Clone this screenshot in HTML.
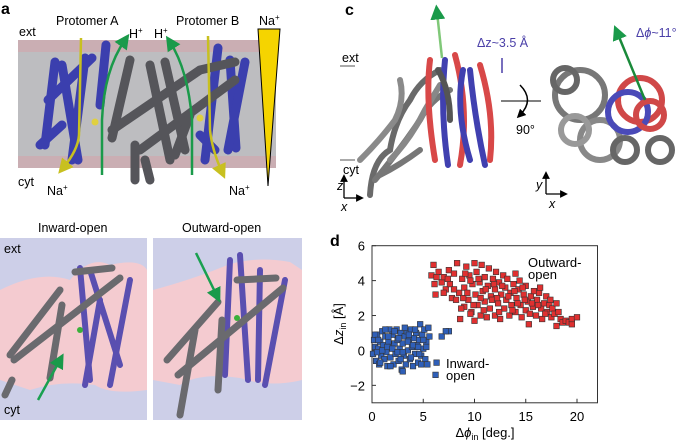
<!DOCTYPE html>
<html><head><meta charset="utf-8">
<style>
body{margin:0;background:#fff;}
svg{display:block;font-family:"Liberation Sans",sans-serif;}
</style></head>
<body>
<svg id="fig" width="685" height="442" viewBox="0 0 685 442">
<defs>
<marker id="ag" markerWidth="6" markerHeight="6" refX="3" refY="3" orient="auto"><path d="M0,0 L6,3 L0,6 z" fill="#1a9a4a"/></marker>
<marker id="ay" markerWidth="6" markerHeight="6" refX="3" refY="3" orient="auto"><path d="M0,0 L6,3 L0,6 z" fill="#c8c020"/></marker>
<marker id="ak" markerWidth="6" markerHeight="6" refX="3" refY="3" orient="auto"><path d="M0,0 L6,3 L0,6 z" fill="#000"/></marker>
</defs>

<!-- Panel a -->
<g>
<text x="1" y="14" font-size="16" font-weight="bold">a</text>
<rect x="18" y="40" width="258" height="128" fill="#bdbdc0"/>
<rect x="18" y="40" width="258" height="12" fill="#d0a8ae" opacity="0.7"/>
<rect x="18" y="156" width="258" height="12" fill="#d0a8ae" opacity="0.7"/>
<g stroke="#3b3fae" stroke-width="9" stroke-linecap="round">
<line x1="55" y1="62" x2="45" y2="145"/><line x1="62" y1="65" x2="78" y2="160"/><line x1="48" y1="100" x2="92" y2="58"/>
<line x1="85" y1="58" x2="72" y2="160"/><line x1="106" y1="45" x2="100" y2="105"/><line x1="40" y1="145" x2="62" y2="125"/>
<line x1="218" y1="48" x2="205" y2="160"/><line x1="230" y1="60" x2="236" y2="148"/><line x1="245" y1="62" x2="228" y2="150"/><line x1="200" y1="135" x2="215" y2="150"/>
</g>
<g stroke="#55555a" stroke-width="9" stroke-linecap="round">
<line x1="130" y1="60" x2="112" y2="138"/><line x1="112" y1="130" x2="200" y2="70"/><line x1="150" y1="65" x2="170" y2="160"/>
<line x1="165" y1="62" x2="185" y2="150"/><line x1="140" y1="150" x2="235" y2="80"/><line x1="175" y1="155" x2="190" y2="115"/>
<line x1="135" y1="145" x2="135" y2="180"/><line x1="145" y1="160" x2="150" y2="180"/><line x1="200" y1="70" x2="235" y2="62"/>
</g>
<line x1="81" y1="38" x2="79" y2="135" stroke="#c8c020" stroke-width="2.5"/>
<path d="M79,135 Q78,150 63,168" stroke="#c8c020" stroke-width="2.5" fill="none" marker-end="url(#ay)"/>
<line x1="208" y1="36" x2="210" y2="130" stroke="#c8c020" stroke-width="2.5"/>
<path d="M210,130 Q212,150 222,172" stroke="#c8c020" stroke-width="2.5" fill="none" marker-end="url(#ay)"/>
<path d="M102,175 L102,120 Q104,70 125,40" stroke="#1a9a4a" stroke-width="2.5" fill="none" marker-end="url(#ag)"/>
<path d="M192,175 L192,120 Q188,70 170,42" stroke="#1a9a4a" stroke-width="2.5" fill="none" marker-end="url(#ag)"/>
<circle cx="95" cy="122" r="3.5" fill="#e0d040"/><circle cx="200" cy="118" r="3.5" fill="#e0d040"/>
<polygon points="258,29 280,29 268,186" fill="#f5d400" stroke="#000" stroke-width="1"/>
<g font-size="12.5">
<text x="56" y="25">Protomer A</text><text x="176" y="25">Protomer B</text>
<text x="19" y="36">ext</text><text x="129" y="38">H<tspan font-size="8" dy="-5">+</tspan></text><text x="154" y="38">H<tspan font-size="8" dy="-5">+</tspan></text>
<text x="259" y="25">Na<tspan font-size="8" dy="-5">+</tspan></text>
<text x="18" y="186">cyt</text><text x="47" y="195">Na<tspan font-size="8" dy="-5">+</tspan></text><text x="229" y="195">Na<tspan font-size="8" dy="-5">+</tspan></text>
</g>
</g>

<!-- Panel b -->
<g>
<text x="1" y="252" font-size="16" font-weight="bold">b</text>
<text x="38" y="232" font-size="12.5">Inward-open</text><text x="182" y="232" font-size="12.5">Outward-open</text>
<rect x="0" y="238" width="147" height="182" fill="#cdcfe8"/>
<rect x="153" y="238" width="149" height="182" fill="#cdcfe8"/>
<path d="M0,290 Q40,270 70,280 Q90,255 110,265 Q140,258 147,270 L147,390 Q110,395 95,385 Q60,380 30,390 L0,380 z" fill="#f4cbd0"/>
<path d="M153,290 Q190,280 220,268 Q250,255 290,262 L302,270 L302,380 Q270,388 240,378 Q200,372 180,385 L153,380 z" fill="#f4cbd0"/>
<g stroke="#5a4fb0" stroke-width="6" stroke-linecap="round">
<line x1="80" y1="268" x2="90" y2="380"/><line x1="90" y1="270" x2="120" y2="365"/><line x1="130" y1="280" x2="110" y2="385"/><line x1="100" y1="300" x2="85" y2="385"/>
<line x1="240" y1="255" x2="248" y2="380"/><line x1="260" y1="270" x2="258" y2="380"/><line x1="285" y1="280" x2="265" y2="385"/><line x1="230" y1="260" x2="225" y2="375"/>
</g>
<g stroke="#6a6a6e" stroke-width="7" stroke-linecap="round">
<line x1="10" y1="355" x2="60" y2="290"/><line x1="14" y1="360" x2="120" y2="278"/><line x1="75" y1="272" x2="112" y2="268"/><line x1="50" y1="378" x2="62" y2="305"/><line x1="5" y1="395" x2="12" y2="380"/>
<line x1="167" y1="360" x2="218" y2="302"/><line x1="178" y1="375" x2="283" y2="288"/><line x1="237" y1="280" x2="276" y2="278"/><line x1="180" y1="415" x2="195" y2="330"/><line x1="218" y1="390" x2="222" y2="320"/>
</g>
<circle cx="80" cy="330" r="3" fill="#3ab03a"/><circle cx="237" cy="318" r="3" fill="#3ab03a"/>
<line x1="38" y1="400" x2="60" y2="360" stroke="#1aa050" stroke-width="2.5" marker-end="url(#ag)"/>
<line x1="196" y1="253" x2="217" y2="296" stroke="#1aa050" stroke-width="2.5" marker-end="url(#ag)"/>
<text x="4" y="253" font-size="12.5">ext</text><text x="4" y="414" font-size="12.5">cyt</text>
</g>

<!-- Panel c -->
<g>
<text x="345" y="15" font-size="16" font-weight="bold">c</text>
<text x="342" y="62" font-size="12.5">ext</text><line x1="340" y1="66" x2="355" y2="66" stroke="#555"/>
<line x1="340" y1="160" x2="355" y2="160" stroke="#555"/><text x="343" y="174" font-size="12.5">cyt</text>
<g fill="none" stroke-width="6" stroke-linecap="round">
<path d="M370,195 Q372,160 390,150 Q395,120 410,100 Q420,80 440,70" stroke="#6a6a6a"/>
<path d="M375,180 Q400,150 420,120 Q430,100 450,90" stroke="#777"/>
<path d="M360,160 Q380,140 395,120 Q405,100 400,80" stroke="#8a8a8a"/>
<path d="M390,160 Q410,140 425,110 L440,85" stroke="#888"/>
<path d="M380,175 Q400,165 420,150" stroke="#777"/>
<path d="M430,60 Q425,100 435,160" stroke="#d84848"/><path d="M445,60 Q440,110 448,165" stroke="#4040b0"/>
<path d="M455,55 Q470,110 460,165" stroke="#d84848"/><path d="M470,70 Q475,120 485,165" stroke="#4040b0"/>
<path d="M480,65 Q495,115 490,160" stroke="#d84848"/><path d="M438,70 Q450,90 450,120" stroke="#555"/>
<path d="M463,70 Q455,110 470,160" stroke="#4040b0"/>
</g>
<line x1="442" y1="58" x2="437" y2="12" stroke="#80c878" stroke-width="2.5" marker-end="url(#ag)"/>
<text x="477" y="47" font-size="12.5" fill="#4a3fa8">Δz~3.5 Å</text>
<line x1="502" y1="73" x2="502" y2="58" stroke="#4a3fa8" stroke-width="1.5"/>
<line x1="501" y1="101" x2="541" y2="101" stroke="#000"/>
<path d="M520,85 Q535,100 520,115" fill="none" stroke="#000" stroke-width="1.5" marker-end="url(#ak)"/>
<text x="516" y="134" font-size="12.5">90°</text>
<g fill="none" stroke-width="6">
<circle cx="580" cy="95" r="25" stroke="#777"/><circle cx="600" cy="140" r="20" stroke="#888"/><circle cx="575" cy="130" r="14" stroke="#999"/>
<circle cx="565" cy="80" r="12" stroke="#666"/><circle cx="625" cy="150" r="12" stroke="#666"/>
<circle cx="640" cy="100" r="22" stroke="#d04848"/><circle cx="628" cy="112" r="20" stroke="#4a4ab8"/><circle cx="650" cy="115" r="14" stroke="#d04848"/><circle cx="660" cy="150" r="12" stroke="#666"/>
</g>
<line x1="645" y1="100" x2="617" y2="32" stroke="#1a8a3a" stroke-width="2.5" marker-end="url(#ag)"/>
<text x="636" y="37" font-size="12.5" fill="#4a3fa8">Δ<tspan font-style="italic">ϕ</tspan>~11°</text>
<g stroke="#000" stroke-width="1.3">
<line x1="344" y1="198" x2="344" y2="178" marker-end="url(#ak)"/><line x1="344" y1="198" x2="360" y2="198" marker-end="url(#ak)"/>
<line x1="546" y1="194" x2="546" y2="175" marker-end="url(#ak)"/><line x1="546" y1="194" x2="564" y2="194" marker-end="url(#ak)"/>
</g>
<text x="337" y="190" font-size="12.5" font-style="italic">z</text><text x="341" y="211" font-size="12.5" font-style="italic">x</text>
<text x="536" y="189" font-size="12.5" font-style="italic">y</text><text x="549" y="208" font-size="12.5" font-style="italic">x</text>
</g>

<!-- Panel d -->
<g id="pd">
<text x="330" y="246" font-size="16" font-weight="bold">d</text>
</g>
</svg>
<script>
const xTicks=[0,5,10,15,20];
const yTicks=[-2,0,2,4,6];
const outwardX=[6,5.8,6.2,6.5,6.8,7,7.2,7.5,7.8,7.6,8,8.3,8.5,8.6,8.8,9,9,9.2,9.4,9.5,9.7,9.8,10,10,10.1,10.2,10.3,10.5,10.6,10.7,10.8,11,11,11.2,11.3,11.4,11.5,11.6,11.8,12,12,12.1,12.3,12.4,12.5,12.6,12.8,12.9,13,13.1,13.2,13.4,13.5,13.6,13.8,14,14,14.1,14.3,14.5,14.6,14.8,15,15,15.2,15.3,15.5,15.7,15.8,16,16.1,16.3,16.5,16.6,16.8,17,17.1,17.3,17.5,17.6,17.8,18,18,18.2,18.4,18.6,18.9,19.2,19.5,19.5,20,8,8.2,8.9,9.3,9.6,10.4,10.9,11.7,12.2,12.7,13.3,13.7,14.2,14.4,14.9,15.4,16.2,16.9,11.1,10.6,9.9,9.1,7.4,7,8.7,13.9,12.4,11.9,9.6,15.6,17.4,6.1,6.3,16.4,14.7];
const outwardY=[4.9,4.3,3.2,4.5,3.9,4.2,3.5,4.6,3,3.8,4.4,5,3.3,1.8,4.1,2.5,3.6,4.8,2.9,4.3,2.2,3.8,5,1.7,3.2,4.5,2.6,3.9,2,4.9,3.4,2.8,4.2,1.9,3.7,4.7,2.4,3.1,4.1,2,3.5,4.5,2.7,3.9,1.8,3.2,4.3,2.4,3.6,2.9,4.1,2,3.3,2.6,3.8,4.4,2.2,3,3.5,2.6,1.9,3.2,2.3,3.7,2.8,1.5,3.1,2.5,3.4,2,2.9,3.3,2.4,1.8,2.7,3.1,2.2,2.6,1.9,2.4,2.1,1.4,2.7,2.2,1.8,1.6,1.7,1.6,1.5,1.8,1.9,3.5,2.9,3,3.3,4,4.1,2.3,2.9,3,3.7,3.1,2.3,2.7,4,2.9,2.1,2.6,2.1,3.5,3,2.6,4.4,4.1,3.3,2.4,3.4,2.2,3.8,2.1,2.7,2.9,3.8,4.2,3.6,3.6];
const inwardX=[0.2,0.1,0.3,0.4,0.5,0.6,0.7,0.8,0.9,1,1.1,1.2,1.3,1.4,1.5,1.6,1.7,1.8,1.9,2,2.1,2.2,2.3,2.4,2.5,2.6,2.7,2.8,2.9,3,3.1,3.2,3.3,3.4,3.5,3.6,3.7,3.8,3.9,4,4.1,4.2,4.3,4.4,4.5,4.6,4.7,4.8,4.9,5,5.1,5.2,5.3,5.5,5.6,5.4,6.3,6.2,6.8,7.5,7.2,0.5,1,1.5,2,2.5,3,3.5,4,4.5,5,0.8,1.8,2.8,3.8,4.8,1.3,2.2,3.2,0.3,4.2,3,0.6,1.6,2.6,3.6,4.6,5.3];
const inwardY=[0.6,-0.2,0.2,-0.6,0.9,0.1,-0.8,0.5,-0.3,1.1,0.3,-0.5,0.8,-0.1,-0.9,0.5,1.2,-0.4,0.2,0.9,-0.8,0.4,-0.2,1.2,0.6,-0.6,0.1,1,-1.1,0.4,-0.3,0.8,-0.8,1.1,0,0.6,-0.5,1.2,0.2,-0.9,0.7,-0.2,1,0.3,-0.7,0.6,1.5,-0.3,0.9,0.1,1.2,-0.5,0.5,1.3,0.8,-0.8,-0.7,-1.4,0.8,1.1,1.1,-0.1,0,0.2,0.1,-0.1,-0.1,0.5,0.3,0.2,0.6,-0.7,-0.9,-0.5,-0.4,-0.8,1.2,1.1,1.3,0.9,1.2,-1.2,0.6,0.8,0.7,0.9,-0.2,0.2];
const X0=372,X1=597.5,XMIN=0,XMAX=22,Y0=402.8,Y1=245.7,YMIN=-3,YMAX=6;
const sx=v=>X0+(v-XMIN)/(XMAX-XMIN)*(X1-X0);
const sy=v=>Y0-(v-YMIN)/(YMAX-YMIN)*(Y0-Y1);
const NS="http://www.w3.org/2000/svg";
const g=document.getElementById('pd');
function mk(t,a){const e=document.createElementNS(NS,t);for(const k in a)e.setAttribute(k,a[k]);g.appendChild(e);return e;}
let fr=mk('rect',{x:X0,y:Y1,width:X1-X0,height:Y0-Y1,fill:'none',stroke:'#333','stroke-width':1});


xTicks.forEach(t=>{
 const l=mk('line',{x1:sx(t),x2:sx(t),y1:Y0,y2:Y0-4,stroke:'#333'});
 
 
 const tx=mk('text',{x:sx(t),y:Y0+18,'font-size':13,'text-anchor':'middle'});tx.textContent=t;
 
 
});
yTicks.forEach(t=>{
 const l=mk('line',{x1:X0,x2:X0+4,y1:sy(t),y2:sy(t),stroke:'#333'});
 
 
 const tx=mk('text',{x:X0-7,y:sy(t)+5,'font-size':13,'text-anchor':'end'});tx.textContent=t<0?'\u2212'+(-t):t;
 
 
});
function pts(xs,ys,fill,name){xs.forEach((x,i)=>{
 const r=mk('rect',{x:sx(x)-2.8,y:sy(ys[i])-2.8,width:5.6,height:5.6,fill:fill,stroke:'#333','stroke-width':0.6});
 
 
});}
pts(inwardX,inwardY,'#2f5fb8','inward-open-point');
pts(outwardX,outwardY,'#e03030','outward-open-point');
const lab=[['Outward-',528,267],['open',528,279],['Inward-',446,368],['open',446,380]];
lab.forEach(a=>{const t=mk('text',{x:a[1],y:a[2],'font-size':13});t.textContent=a[0];
 
 });
const xl=mk('text',{x:485,y:437,'font-size':13,'text-anchor':'middle'});
xl.innerHTML='Δ<tspan font-style="italic">ϕ</tspan><tspan font-size="9" dy="3">in</tspan><tspan dy="-3"> [deg.]</tspan>';


const yl=mk('text',{x:0,y:0,'font-size':13,'text-anchor':'middle',transform:'translate(343,324) rotate(-90)'});
yl.innerHTML='Δ<tspan font-style="italic">z</tspan><tspan font-size="9" dy="3">in</tspan><tspan dy="-3"> [Å]</tspan>';


</script>
</body></html>
